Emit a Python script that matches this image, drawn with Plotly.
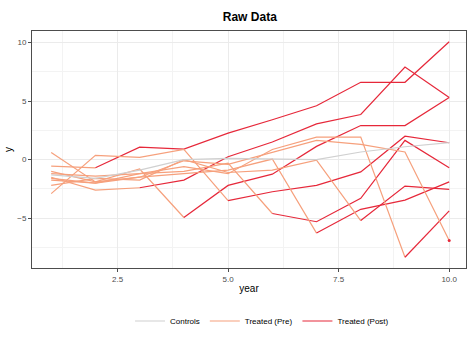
import plotly.graph_objects as go

years = [1, 2, 3, 4, 5, 6, 7, 8, 9, 10]

# unit name -> (first treated year, values by year); None = control
unit_names = ["u2", "u3", "u4", "u5", "u6", "u7", "u8", "u9", "u10", "ctrl"]
treat_start = [2, 3, 4, 5, 6, 7, 8, 9, 10, None]
y_u2 = [-0.56, -0.70, 1.07, 0.90, 2.26, 3.40, 4.60, 6.60, 6.60, 10.06]
y_u3 = [-1.50, -2.60, -2.40, -1.75, 0.25, 1.50, 3.05, 3.85, 7.90, 5.31]
y_u4 = [0.60, -1.90, -0.80, -4.94, -2.20, -1.24, 1.13, 2.91, 2.91, 5.31]
y_u5 = [-2.90, 0.37, 0.20, 0.88, -3.50, -2.74, -2.20, -1.05, 2.00, 1.44]
y_u6 = [-1.20, -1.40, -1.20, -1.00, -0.30, -4.60, -5.30, -3.30, 1.64, -0.70]
y_u7 = [-1.75, -2.00, -1.50, -1.20, -0.90, 0.05, -6.27, -4.24, -3.45, -1.90]
y_u8 = [-2.20, -1.60, -1.75, 0.00, -1.10, -0.90, -0.05, -5.20, -2.26, -2.54]
y_u9 = [-1.60, -2.00, -1.20, -0.60, -1.20, 0.87, 1.92, 1.92, -8.33, -4.38]
y_u10 = [-1.00, -1.90, -1.50, -0.10, -0.40, 0.59, 1.64, 1.30, 0.65, -6.90]
y_ctrl = [-1.30, -1.60, -0.90, 0.00, 0.10, 0.08, 0.00, 0.65, 1.10, 1.45]
unit_values = [y_u2, y_u3, y_u4, y_u5, y_u6, y_u7, y_u8, y_u9, y_u10, y_ctrl]

x_ticks = [2.5, 5.0, 7.5, 10.0]
x_tick_labels = ["2.5", "5.0", "7.5", "10.0"]
y_ticks = [-5, 0, 5, 10]

group_labels = ["Controls", "Treated (Pre)", "Treated (Post)"]
group_colors = {"Controls": "#d0d0d0", "Treated (Pre)": "#f6a07c", "Treated (Post)": "#e6283a"}

FONT = "Liberation Sans, Arial, sans-serif"

fig = go.Figure()
shown = set()


def add(xs, ys, grp, mode="lines"):
    show = grp not in shown
    shown.add(grp)
    fig.add_trace(go.Scatter(
        x=xs, y=ys, mode=mode, name=grp, legendgroup=grp, showlegend=show,
        line=dict(color=group_colors[grp], width=1.2),
        marker=dict(color=group_colors[grp], size=3),
        hoverinfo="skip",
    ))


# legend order placeholders
for g in group_labels:
    add([None], [None], g)

for name, start, vals in zip(unit_names, treat_start, unit_values):
    if start is None:
        add(years, vals, "Controls")
        continue
    k = years.index(start)
    add(years[:k + 1], vals[:k + 1], "Treated (Pre)")
    if k == len(years) - 1:
        add(years[k:], vals[k:], "Treated (Post)", mode="markers")
    else:
        add(years[k:], vals[k:], "Treated (Post)")

axis_common = dict(
    showline=True, linecolor="#4d4d4d", linewidth=1, mirror=True,
    gridcolor="#ebebeb", gridwidth=1, zeroline=False,
    ticks="outside", ticklen=3, tickcolor="#4d4d4d",
    tickfont=dict(family=FONT, size=8, color="#4d4d4d"),
    title_font=dict(family=FONT, size=10, color="#000000"),
    automargin=False,
)

fig.update_xaxes(
    range=[0.566, 10.38], tickvals=x_ticks, ticktext=x_tick_labels,
    title_text="year", title_standoff=2,
    minor=dict(tickvals=[1.25, 3.75, 6.25, 8.75], showgrid=True,
               gridcolor="#f3f3f3", gridwidth=0.6, ticks=""),
    **axis_common)
fig.update_yaxes(
    range=[-9.25, 10.98], tickvals=y_ticks, title_text="y", title_standoff=2,
    minor=dict(tickvals=[-7.5, -2.5, 2.5, 7.5], showgrid=True,
               gridcolor="#f3f3f3", gridwidth=0.6, ticks=""),
    **axis_common)

fig.update_layout(
    width=474, height=338,
    margin=dict(l=32, r=8, t=31, b=70),
    paper_bgcolor="white", plot_bgcolor="white",
    title=dict(text="<b>Raw Data</b>", x=0.527, xanchor="center",
               yref="container", y=1 - 17 / 338, yanchor="middle",
               font=dict(family=FONT, size=12, color="#000000")),
    legend=dict(orientation="h", x=0.53, xanchor="center",
                yref="container", y=17 / 338, yanchor="middle",
                font=dict(family=FONT, size=8, color="#000000"),
                itemwidth=30, tracegroupgap=0),
    showlegend=True,
)

fig.write_html("out.html")
